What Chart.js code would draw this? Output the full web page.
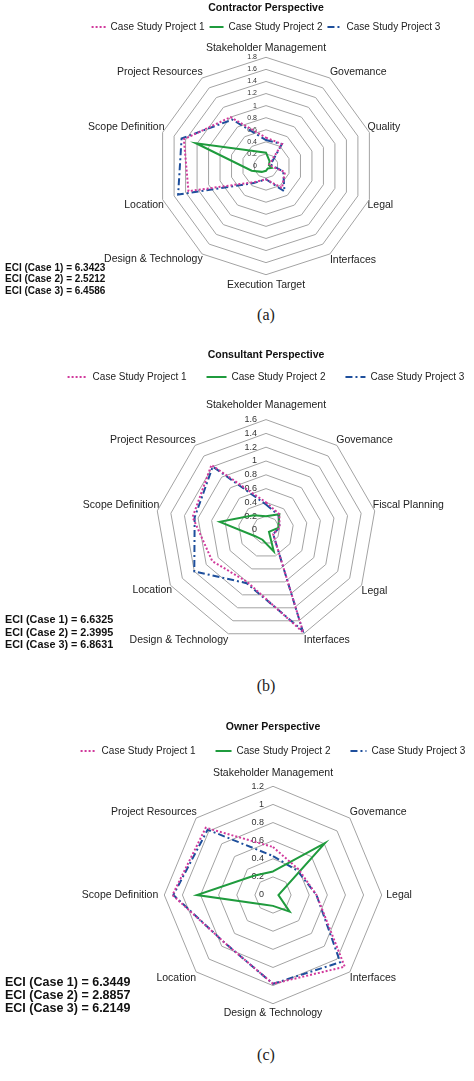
<!DOCTYPE html>
<html>
<head>
<meta charset="utf-8">
<script src="https://cdn.jsdelivr.net/npm/chart.js@4.4.1/dist/chart.umd.min.js"></script>
<style>
  html, body { margin: 0; padding: 0; background: #fff; }
  body { width: 474px; height: 1081px; position: relative; overflow: hidden; }
  canvas { position: absolute; left: 0; }
  .eci { position: absolute; left: 5px; font-family: "Liberation Sans", Arial, sans-serif; font-weight: bold; color: #111; white-space: nowrap; }
  .cap { position: absolute; left: 0; width: 532px; text-align: center; font-family: "Liberation Serif", "Times New Roman", serif; font-size: 16px; line-height: 18px; color: #222; }
</style>
</head>
<body>
<canvas id="contractor" width="500" height="300" style="top:0px;width:500px;height:300px"></canvas>
<canvas id="consultant" width="500" height="315" style="top:345px;width:500px;height:315px"></canvas>
<canvas id="owner" width="510" height="312" style="top:717px;width:510px;height:312px"></canvas>

<div class="eci" id="eciA" style="top:261.5px;font-size:10px;line-height:11.5px"></div>
<div class="eci" id="eciB" style="top:613px;font-size:10.8px;line-height:12.5px"></div>
<div class="eci" id="eciC" style="top:976px;font-size:12.5px;line-height:13px"></div>
<div class="cap" style="top:306px">(a)</div>
<div class="cap" style="top:677px">(b)</div>
<div class="cap" style="top:1046px">(c)</div>

<script>
const seriesNames = ['Case Study Project 1', 'Case Study Project 2', 'Case Study Project 3'];

// (a) Contractor Perspective
const contractorAxes = ['Stakeholder Management', 'Govemance', 'Quality', 'Legal', 'Interfaces',
  'Execution Target', 'Design & Technology', 'Location', 'Scope Definition', 'Project Resources'];
const contractorCase1 = [0.47, 0.45, 0.05, 0.33, 0.45, 0.22, 0.33, 1.35, 1.43, 1.0];
const contractorCase2 = [0.22, 0.1, 0.05, 0.1, 0.05, 0.08, 0.12, 0.25, 1.22, 0.3];
const contractorCase3 = [0.43, 0.45, 0.08, 0.3, 0.52, 0.22, 0.35, 1.53, 1.47, 0.95];
const contractorTicks = ['0', '0.2', '0.4', '0.6', '0.8', '1', '1.2', '1.4', '1.6', '1.8'];
const contractorEci = ['ECI (Case 1) = 6.3423', 'ECI (Case 2) = 2.5212', 'ECI (Case 3) = 6.4586'];

// (b) Consultant Perspective
const consultantAxes = ['Stakeholder Management', 'Govemance', 'Fiscal Planning', 'Legal', 'Interfaces',
  'Design & Technology', 'Location', 'Scope Definition', 'Project Resources'];
const consultantCase1 = [0.4, 0.3, 0.2, 0.12, 1.58, 0.8, 0.9, 1.08, 1.23];
const consultantCase2 = [0.2, 0.3, 0.18, 0.05, 0.33, 0.15, 0.18, 0.68, 0.28];
const consultantCase3 = [0.37, 0.28, 0.2, 0.12, 1.55, 0.82, 1.2, 1.05, 1.2];
const consultantTicks = ['0', '0.2', '0.4', '0.6', '0.8', '1', '1.2', '1.4', '1.6'];
const consultantEci = ['ECI (Case 1) = 6.6325', 'ECI (Case 2) = 2.3995', 'ECI (Case 3) = 6.8631'];

// (c) Owner Perspective
const ownerAxes = ['Stakeholder Management', 'Govemance', 'Legal', 'Interfaces',
  'Design & Technology', 'Location', 'Scope Definition', 'Project Resources'];
const ownerCase1 = [0.53, 0.4, 0.48, 1.12, 0.98, 0.75, 1.11, 1.05];
const ownerCase2 = [0.26, 0.81, 0.06, 0.26, 0.12, 0.15, 0.84, 0.3];
const ownerCase3 = [0.43, 0.38, 0.48, 1.05, 0.98, 0.75, 1.1, 1.02];
const ownerTicks = ['0', '0.2', '0.4', '0.6', '0.8', '1', '1.2'];
const ownerEci = ['ECI (Case 1) = 6.3449', 'ECI (Case 2) = 2.8857', 'ECI (Case 3) = 6.2149'];

const family = '"Liberation Sans", Arial, sans-serif';
const pink = '#d13a9c';
const green = '#1f9b3d';
const blue = '#1e4f9c';

// Excel-style value labels: right aligned, left of the vertical axis, including 0
const tickLabels = {
  id: 'tickLabels',
  beforeDatasetsDraw(chart, args, opts) {
    const r = chart.scales.r;
    const ctx = chart.ctx;
    ctx.save();
    ctx.font = opts.size + 'px ' + family;
    ctx.fillStyle = '#333';
    ctx.textAlign = 'right';
    ctx.textBaseline = 'middle';
    r.ticks.forEach(t => {
      ctx.fillText(t.label, r.xCenter - opts.gap, r.yCenter - r.getDistanceFromCenterForValue(t.value));
    });
    ctx.restore();
  }
};

function radar(id, axes, case1, case2, case3, ticks, max, o) {
  return new Chart(document.getElementById(id), {
    type: 'radar',
    data: {
      labels: axes,
      datasets: [
        { label: seriesNames[0], data: case1, borderColor: pink, borderDash: [2, 2] },
        { label: seriesNames[1], data: case2, borderColor: green },
        { label: seriesNames[2], data: case3, borderColor: blue, borderDash: [7, 3, 2, 3] }
      ]
    },
    options: {
      responsive: false,
      animation: false,
      layout: { padding: o.layout },
      elements: {
        line: { borderWidth: 2, tension: 0, fill: false, backgroundColor: 'transparent' },
        point: { radius: 0, hoverRadius: 0 }
      },
      plugins: {
        title: {
          display: true, text: o.title, color: '#111',
          font: { family: family, size: 10.5, weight: 'bold', lineHeight: 1.2 },
          padding: o.titlePad
        },
        legend: {
          labels: {
            usePointStyle: true, pointStyle: 'line', pointStyleWidth: o.legendLine,
            padding: o.legendPad, color: '#222',
            font: { family: family, size: 10 },
            // point-style legend ignores borderDash, so copy the line style over
            generateLabels: chart => Chart.defaults.plugins.legend.labels.generateLabels(chart).map(item => {
              const ds = chart.data.datasets[item.datasetIndex];
              return Object.assign(item, { lineDash: ds.borderDash || [], lineWidth: 2, strokeStyle: ds.borderColor });
            })
          }
        },
        tooltip: { enabled: false },
        tickLabels: { size: o.tickSize, gap: 9 }
      },
      scales: {
        r: {
          min: 0, max: max,
          ticks: { stepSize: 0.2, display: false, callback: (v, i) => ticks[i] },
          grid: { color: '#a3a3a3', lineWidth: 1 },
          angleLines: { display: false },
          pointLabels: {
            color: '#222',
            font: { family: family, size: 10.5, lineHeight: 1.2 },
            padding: ctx => o.labelPad[ctx.index]
          }
        }
      }
    },
    plugins: [tickLabels]
  });
}

radar('contractor', contractorAxes, contractorCase1, contractorCase2, contractorCase3, contractorTicks, 1.8, {
  title: 'Contractor Perspective',
  layout: { left: 36, right: 4, top: 0, bottom: 8 },
  titlePad: { top: 2.2, bottom: 2.2 },
  legendPad: 5, legendLine: 14, tickSize: 7,
  labelPad: [2.7, 0, -2, -2, 0, 3.7, -1, -1.4, -2, -1]
});
radar('consultant', consultantAxes, consultantCase1, consultantCase2, consultantCase3, consultantTicks, 1.6, {
  title: 'Consultant Perspective',
  layout: { left: 36, right: 4, top: 0, bottom: 6 },
  titlePad: { top: 3.7, bottom: -9.3 },
  legendPad: 20, legendLine: 20, tickSize: 9,
  labelPad: [8, -1, -2, 0, 0, 0, -2, -2, -1]
});
radar('owner', ownerAxes, ownerCase1, ownerCase2, ownerCase3, ownerTicks, 1.2, {
  title: 'Owner Perspective',
  layout: { left: 43, right: 7, top: 0, bottom: 7 },
  titlePad: { top: 3.7, bottom: -7.3 },
  legendPad: 20, legendLine: 16, tickSize: 9,
  labelPad: [6.7, 0, 4.5, 0, 3, 0, 6, -1]
});

document.getElementById('eciA').innerHTML = contractorEci.join('<br>');
document.getElementById('eciB').innerHTML = consultantEci.join('<br>');
document.getElementById('eciC').innerHTML = ownerEci.join('<br>');
</script>
</body>
</html>
